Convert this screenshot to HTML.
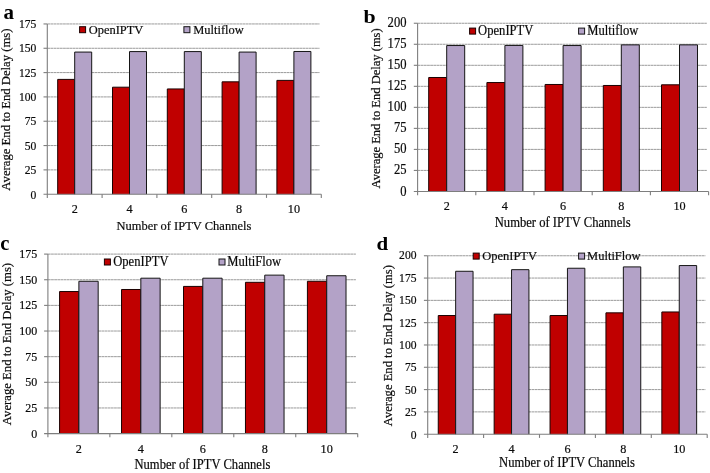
<!DOCTYPE html>
<html><head><meta charset="utf-8"><title>Average End to End Delay</title>
<style>
html,body{margin:0;padding:0;background:#fff;}
svg{display:block;font-family:"Liberation Serif",serif;fill:#0a0a0a;}
text{stroke:#0a0a0a;stroke-width:0.2px}
.p{font-size:21px;font-weight:bold;fill:#000;stroke:none}
.g{stroke:#9b9b9b;stroke-width:1;stroke-dasharray:2.8 0.35;fill:none}
.ax{stroke:#7e7e7e;stroke-width:1.1;fill:none}
.r{fill:#c00000;stroke:#1a0000;stroke-width:1}
.u{fill:#b3a2c7;stroke:#151515;stroke-width:1}
</style></head><body>
<svg width="710" height="473" viewBox="0 0 710 473">
<rect width="710" height="473" fill="#fff"/>

<g id="chart-a">
<line class="g" x1="47.30" y1="169.88" x2="319.50" y2="169.88"/>
<line class="g" x1="47.30" y1="145.56" x2="319.50" y2="145.56"/>
<line class="g" x1="47.30" y1="121.24" x2="319.50" y2="121.24"/>
<line class="g" x1="47.30" y1="96.91" x2="319.50" y2="96.91"/>
<line class="g" x1="47.30" y1="72.59" x2="319.50" y2="72.59"/>
<line class="g" x1="47.30" y1="48.27" x2="319.50" y2="48.27"/>
<line class="g" x1="47.30" y1="23.95" x2="319.50" y2="23.95"/>
<path class="r" d="M57.70 194.20V79.40H74.70V194.20"/>
<path class="u" d="M74.70 194.20V52.07H91.70V194.20"/>
<path class="r" d="M112.50 194.20V87.19H129.50V194.20"/>
<path class="u" d="M129.50 194.20V51.58H146.50V194.20"/>
<path class="r" d="M167.30 194.20V88.94H184.30V194.20"/>
<path class="u" d="M184.30 194.20V51.58H201.30V194.20"/>
<path class="r" d="M222.10 194.20V81.83H239.10V194.20"/>
<path class="u" d="M239.10 194.20V52.07H256.10V194.20"/>
<path class="r" d="M276.90 194.20V80.38H293.90V194.20"/>
<path class="u" d="M293.90 194.20V51.48H310.90V194.20"/>
<line class="ax" x1="47.30" y1="23.95" x2="47.30" y2="197.90"/>
<line class="ax" x1="43.50" y1="194.20" x2="321.30" y2="194.20"/>
<line class="ax" x1="43.50" y1="169.88" x2="47.30" y2="169.88"/>
<line class="ax" x1="43.50" y1="145.56" x2="47.30" y2="145.56"/>
<line class="ax" x1="43.50" y1="121.24" x2="47.30" y2="121.24"/>
<line class="ax" x1="43.50" y1="96.91" x2="47.30" y2="96.91"/>
<line class="ax" x1="43.50" y1="72.59" x2="47.30" y2="72.59"/>
<line class="ax" x1="43.50" y1="48.27" x2="47.30" y2="48.27"/>
<line class="ax" x1="43.50" y1="23.95" x2="47.30" y2="23.95"/>
<line class="ax" x1="102.10" y1="194.20" x2="102.10" y2="197.90"/>
<line class="ax" x1="156.90" y1="194.20" x2="156.90" y2="197.90"/>
<line class="ax" x1="211.70" y1="194.20" x2="211.70" y2="197.90"/>
<line class="ax" x1="266.50" y1="194.20" x2="266.50" y2="197.90"/>
<line class="ax" x1="321.30" y1="194.20" x2="321.30" y2="197.90"/>
<text text-anchor="end" transform="translate(36.40 198.70) scale(0.9091 1)" font-size="12.76">0</text>
<text text-anchor="end" transform="translate(36.40 173.83) scale(0.9091 1)" font-size="12.76">25</text>
<text text-anchor="end" transform="translate(36.40 149.51) scale(0.9091 1)" font-size="12.76">50</text>
<text text-anchor="end" transform="translate(36.40 125.19) scale(0.9091 1)" font-size="12.76">75</text>
<text text-anchor="end" transform="translate(36.40 100.86) scale(0.9091 1)" font-size="12.76">100</text>
<text text-anchor="end" transform="translate(36.40 76.54) scale(0.9091 1)" font-size="12.76">125</text>
<text text-anchor="end" transform="translate(36.40 52.22) scale(0.9091 1)" font-size="12.76">150</text>
<text text-anchor="end" transform="translate(36.40 27.90) scale(0.9091 1)" font-size="12.76">175</text>
<text text-anchor="middle" transform="translate(74.70 213.20) scale(0.9259 1)" font-size="13.18">2</text>
<text text-anchor="middle" transform="translate(129.50 213.20) scale(0.9259 1)" font-size="13.18">4</text>
<text text-anchor="middle" transform="translate(184.30 213.20) scale(0.9259 1)" font-size="13.18">6</text>
<text text-anchor="middle" transform="translate(239.10 213.20) scale(0.9259 1)" font-size="13.18">8</text>
<text text-anchor="middle" transform="translate(293.90 213.20) scale(0.9259 1)" font-size="13.18">10</text>
<text text-anchor="middle" transform="translate(183.90 229.60) scale(0.9259 1)" font-size="13.50">Number of IPTV Channels</text>
<text font-size="12.70" text-anchor="middle" transform="translate(9.80 109.57) scale(0.94 1) rotate(-90)">Average End to End Delay (ms)</text>
<rect class="r" x="79.60" y="26.70" width="6" height="6"/>
<text transform="translate(88.70 33.70) scale(0.9259 1)" font-size="13.45">OpenIPTV</text>
<rect class="u" x="183.90" y="26.70" width="6" height="6"/>
<text transform="translate(193.30 33.70) scale(0.9259 1)" font-size="13.45">Multiflow</text>
<text class="p" transform="translate(3.50 19.20) scale(1.000 1.000)">a</text>
</g>
<g id="chart-b">
<line class="g" x1="417.60" y1="170.42" x2="706.80" y2="170.42"/>
<line class="g" x1="417.60" y1="149.40" x2="706.80" y2="149.40"/>
<line class="g" x1="417.60" y1="128.38" x2="706.80" y2="128.38"/>
<line class="g" x1="417.60" y1="107.35" x2="706.80" y2="107.35"/>
<line class="g" x1="417.60" y1="86.32" x2="706.80" y2="86.32"/>
<line class="g" x1="417.60" y1="65.30" x2="706.80" y2="65.30"/>
<line class="g" x1="417.60" y1="44.28" x2="706.80" y2="44.28"/>
<line class="g" x1="417.60" y1="23.25" x2="706.80" y2="23.25"/>
<path class="r" d="M428.70 191.45V77.49H446.70V191.45"/>
<path class="u" d="M446.70 191.45V45.54H464.70V191.45"/>
<path class="r" d="M486.90 191.45V82.54H504.90V191.45"/>
<path class="u" d="M504.90 191.45V45.45H522.90V191.45"/>
<path class="r" d="M545.10 191.45V84.47H563.10V191.45"/>
<path class="u" d="M563.10 191.45V45.54H581.10V191.45"/>
<path class="r" d="M603.30 191.45V85.48H621.30V191.45"/>
<path class="u" d="M621.30 191.45V44.86H639.30V191.45"/>
<path class="r" d="M661.50 191.45V84.81H679.50V191.45"/>
<path class="u" d="M679.50 191.45V44.86H697.50V191.45"/>
<line class="ax" x1="417.60" y1="23.25" x2="417.60" y2="195.15"/>
<line class="ax" x1="413.80" y1="191.45" x2="708.60" y2="191.45"/>
<line class="ax" x1="413.80" y1="170.42" x2="417.60" y2="170.42"/>
<line class="ax" x1="413.80" y1="149.40" x2="417.60" y2="149.40"/>
<line class="ax" x1="413.80" y1="128.38" x2="417.60" y2="128.38"/>
<line class="ax" x1="413.80" y1="107.35" x2="417.60" y2="107.35"/>
<line class="ax" x1="413.80" y1="86.32" x2="417.60" y2="86.32"/>
<line class="ax" x1="413.80" y1="65.30" x2="417.60" y2="65.30"/>
<line class="ax" x1="413.80" y1="44.28" x2="417.60" y2="44.28"/>
<line class="ax" x1="413.80" y1="23.25" x2="417.60" y2="23.25"/>
<line class="ax" x1="475.80" y1="191.45" x2="475.80" y2="195.15"/>
<line class="ax" x1="534.00" y1="191.45" x2="534.00" y2="195.15"/>
<line class="ax" x1="592.20" y1="191.45" x2="592.20" y2="195.15"/>
<line class="ax" x1="650.40" y1="191.45" x2="650.40" y2="195.15"/>
<line class="ax" x1="708.60" y1="191.45" x2="708.60" y2="195.15"/>
<text text-anchor="end" transform="translate(406.50 195.95) scale(0.9091 1)" font-size="13.86">0</text>
<text text-anchor="end" transform="translate(406.50 174.37) scale(0.9091 1)" font-size="13.86">25</text>
<text text-anchor="end" transform="translate(406.50 153.35) scale(0.9091 1)" font-size="13.86">50</text>
<text text-anchor="end" transform="translate(406.50 132.32) scale(0.9091 1)" font-size="13.86">75</text>
<text text-anchor="end" transform="translate(406.50 111.30) scale(0.9091 1)" font-size="13.86">100</text>
<text text-anchor="end" transform="translate(406.50 90.27) scale(0.9091 1)" font-size="13.86">125</text>
<text text-anchor="end" transform="translate(406.50 69.25) scale(0.9091 1)" font-size="13.86">150</text>
<text text-anchor="end" transform="translate(406.50 48.23) scale(0.9091 1)" font-size="13.86">175</text>
<text text-anchor="end" transform="translate(406.50 27.20) scale(0.9091 1)" font-size="13.86">200</text>
<text text-anchor="middle" transform="translate(446.70 209.80) scale(0.9259 1)" font-size="13.18">2</text>
<text text-anchor="middle" transform="translate(504.90 209.80) scale(0.9259 1)" font-size="13.18">4</text>
<text text-anchor="middle" transform="translate(563.10 209.80) scale(0.9259 1)" font-size="13.18">6</text>
<text text-anchor="middle" transform="translate(621.30 209.80) scale(0.9259 1)" font-size="13.18">8</text>
<text text-anchor="middle" transform="translate(679.50 209.80) scale(0.9259 1)" font-size="13.18">10</text>
<text text-anchor="middle" transform="translate(562.70 226.50) scale(0.9259 1)" font-size="13.61">Number of IPTV Channels</text>
<text font-size="12.55" text-anchor="middle" transform="translate(379.80 108.40) scale(0.94 1) rotate(-90)">Average End to End Delay (ms)</text>
<rect class="r" x="469.60" y="28.10" width="6" height="6"/>
<text transform="translate(478.10 35.10) scale(0.9259 1)" font-size="13.61">OpenIPTV</text>
<rect class="u" x="578.60" y="28.10" width="6" height="6"/>
<text transform="translate(587.30 35.10) scale(0.9259 1)" font-size="13.61">Multiflow</text>
<text class="p" transform="translate(363.40 23.00) scale(1.040 0.940)">b</text>
</g>
<g id="chart-c">
<line class="g" x1="47.90" y1="407.96" x2="355.90" y2="407.96"/>
<line class="g" x1="47.90" y1="382.31" x2="355.90" y2="382.31"/>
<line class="g" x1="47.90" y1="356.67" x2="355.90" y2="356.67"/>
<line class="g" x1="47.90" y1="331.03" x2="355.90" y2="331.03"/>
<line class="g" x1="47.90" y1="305.39" x2="355.90" y2="305.39"/>
<line class="g" x1="47.90" y1="279.74" x2="355.90" y2="279.74"/>
<line class="g" x1="47.90" y1="254.10" x2="355.90" y2="254.10"/>
<path class="r" d="M59.58 433.60V291.54H78.88V433.60"/>
<path class="u" d="M78.88 433.60V281.28H98.18V433.60"/>
<path class="r" d="M121.54 433.60V289.49H140.84V433.60"/>
<path class="u" d="M140.84 433.60V278.20H160.14V433.60"/>
<path class="r" d="M183.50 433.60V286.41H202.80V433.60"/>
<path class="u" d="M202.80 433.60V278.20H222.10V433.60"/>
<path class="r" d="M245.46 433.60V282.31H264.76V433.60"/>
<path class="u" d="M264.76 433.60V275.13H284.06V433.60"/>
<path class="r" d="M307.42 433.60V281.28H326.72V433.60"/>
<path class="u" d="M326.72 433.60V275.74H346.02V433.60"/>
<line class="ax" x1="47.90" y1="254.10" x2="47.90" y2="437.30"/>
<line class="ax" x1="44.10" y1="433.60" x2="357.70" y2="433.60"/>
<line class="ax" x1="44.10" y1="407.96" x2="47.90" y2="407.96"/>
<line class="ax" x1="44.10" y1="382.31" x2="47.90" y2="382.31"/>
<line class="ax" x1="44.10" y1="356.67" x2="47.90" y2="356.67"/>
<line class="ax" x1="44.10" y1="331.03" x2="47.90" y2="331.03"/>
<line class="ax" x1="44.10" y1="305.39" x2="47.90" y2="305.39"/>
<line class="ax" x1="44.10" y1="279.74" x2="47.90" y2="279.74"/>
<line class="ax" x1="44.10" y1="254.10" x2="47.90" y2="254.10"/>
<line class="ax" x1="109.86" y1="433.60" x2="109.86" y2="437.30"/>
<line class="ax" x1="171.82" y1="433.60" x2="171.82" y2="437.30"/>
<line class="ax" x1="233.78" y1="433.60" x2="233.78" y2="437.30"/>
<line class="ax" x1="295.74" y1="433.60" x2="295.74" y2="437.30"/>
<line class="ax" x1="357.70" y1="433.60" x2="357.70" y2="437.30"/>
<text text-anchor="end" transform="translate(37.20 438.10) scale(0.9091 1)" font-size="13.20">0</text>
<text text-anchor="end" transform="translate(37.20 411.91) scale(0.9091 1)" font-size="13.20">25</text>
<text text-anchor="end" transform="translate(37.20 386.26) scale(0.9091 1)" font-size="13.20">50</text>
<text text-anchor="end" transform="translate(37.20 360.62) scale(0.9091 1)" font-size="13.20">75</text>
<text text-anchor="end" transform="translate(37.20 334.98) scale(0.9091 1)" font-size="13.20">100</text>
<text text-anchor="end" transform="translate(37.20 309.34) scale(0.9091 1)" font-size="13.20">125</text>
<text text-anchor="end" transform="translate(37.20 283.69) scale(0.9091 1)" font-size="13.20">150</text>
<text text-anchor="end" transform="translate(37.20 257.60) scale(0.9091 1)" font-size="13.20">175</text>
<text text-anchor="middle" transform="translate(78.88 452.60) scale(0.9259 1)" font-size="13.18">2</text>
<text text-anchor="middle" transform="translate(140.84 452.60) scale(0.9259 1)" font-size="13.18">4</text>
<text text-anchor="middle" transform="translate(202.80 452.60) scale(0.9259 1)" font-size="13.18">6</text>
<text text-anchor="middle" transform="translate(264.76 452.60) scale(0.9259 1)" font-size="13.18">8</text>
<text text-anchor="middle" transform="translate(326.72 452.60) scale(0.9259 1)" font-size="13.18">10</text>
<text text-anchor="middle" transform="translate(202.40 469.00) scale(0.9259 1)" font-size="13.61">Number of IPTV Channels</text>
<text font-size="12.70" text-anchor="middle" transform="translate(11.00 344.05) scale(0.94 1) rotate(-90)">Average End to End Delay (ms)</text>
<rect class="r" x="104.40" y="259.00" width="6" height="6"/>
<text transform="translate(113.20 266.00) scale(0.9259 1)" font-size="13.61">OpenIPTV</text>
<rect class="u" x="219.00" y="259.00" width="6" height="6"/>
<text transform="translate(227.30 266.00) scale(0.9259 1)" font-size="13.61">MultiFlow</text>
<text class="p" transform="translate(0.20 250.30) scale(0.980 0.980)">c</text>
</g>
<g id="chart-d">
<line class="g" x1="427.70" y1="411.89" x2="705.40" y2="411.89"/>
<line class="g" x1="427.70" y1="389.59" x2="705.40" y2="389.59"/>
<line class="g" x1="427.70" y1="367.28" x2="705.40" y2="367.28"/>
<line class="g" x1="427.70" y1="344.98" x2="705.40" y2="344.98"/>
<line class="g" x1="427.70" y1="322.67" x2="705.40" y2="322.67"/>
<line class="g" x1="427.70" y1="300.36" x2="705.40" y2="300.36"/>
<line class="g" x1="427.70" y1="278.06" x2="705.40" y2="278.06"/>
<line class="g" x1="427.70" y1="255.75" x2="705.40" y2="255.75"/>
<path class="r" d="M438.25 434.20V315.53H455.65V434.20"/>
<path class="u" d="M455.65 434.20V271.28H473.05V434.20"/>
<path class="r" d="M494.15 434.20V314.19H511.55V434.20"/>
<path class="u" d="M511.55 434.20V269.67H528.95V434.20"/>
<path class="r" d="M550.05 434.20V315.53H567.45V434.20"/>
<path class="u" d="M567.45 434.20V268.24H584.85V434.20"/>
<path class="r" d="M605.95 434.20V312.85H623.35V434.20"/>
<path class="u" d="M623.35 434.20V266.90H640.75V434.20"/>
<path class="r" d="M661.85 434.20V311.96H679.25V434.20"/>
<path class="u" d="M679.25 434.20V265.56H696.65V434.20"/>
<line class="ax" x1="427.70" y1="255.75" x2="427.70" y2="437.90"/>
<line class="ax" x1="423.90" y1="434.20" x2="707.20" y2="434.20"/>
<line class="ax" x1="423.90" y1="411.89" x2="427.70" y2="411.89"/>
<line class="ax" x1="423.90" y1="389.59" x2="427.70" y2="389.59"/>
<line class="ax" x1="423.90" y1="367.28" x2="427.70" y2="367.28"/>
<line class="ax" x1="423.90" y1="344.98" x2="427.70" y2="344.98"/>
<line class="ax" x1="423.90" y1="322.67" x2="427.70" y2="322.67"/>
<line class="ax" x1="423.90" y1="300.36" x2="427.70" y2="300.36"/>
<line class="ax" x1="423.90" y1="278.06" x2="427.70" y2="278.06"/>
<line class="ax" x1="423.90" y1="255.75" x2="427.70" y2="255.75"/>
<line class="ax" x1="483.60" y1="434.20" x2="483.60" y2="437.90"/>
<line class="ax" x1="539.50" y1="434.20" x2="539.50" y2="437.90"/>
<line class="ax" x1="595.40" y1="434.20" x2="595.40" y2="437.90"/>
<line class="ax" x1="651.30" y1="434.20" x2="651.30" y2="437.90"/>
<line class="ax" x1="707.20" y1="434.20" x2="707.20" y2="437.90"/>
<text text-anchor="end" transform="translate(416.50 438.70) scale(0.9091 1)" font-size="12.76">0</text>
<text text-anchor="end" transform="translate(416.50 415.84) scale(0.9091 1)" font-size="12.76">25</text>
<text text-anchor="end" transform="translate(416.50 393.54) scale(0.9091 1)" font-size="12.76">50</text>
<text text-anchor="end" transform="translate(416.50 371.23) scale(0.9091 1)" font-size="12.76">75</text>
<text text-anchor="end" transform="translate(416.50 348.93) scale(0.9091 1)" font-size="12.76">100</text>
<text text-anchor="end" transform="translate(416.50 326.62) scale(0.9091 1)" font-size="12.76">125</text>
<text text-anchor="end" transform="translate(416.50 304.31) scale(0.9091 1)" font-size="12.76">150</text>
<text text-anchor="end" transform="translate(416.50 282.01) scale(0.9091 1)" font-size="12.76">175</text>
<text text-anchor="end" transform="translate(416.50 259.25) scale(0.9091 1)" font-size="12.76">200</text>
<text text-anchor="middle" transform="translate(455.65 452.80) scale(0.9259 1)" font-size="13.18">2</text>
<text text-anchor="middle" transform="translate(511.55 452.80) scale(0.9259 1)" font-size="13.18">4</text>
<text text-anchor="middle" transform="translate(567.45 452.80) scale(0.9259 1)" font-size="13.18">6</text>
<text text-anchor="middle" transform="translate(623.35 452.80) scale(0.9259 1)" font-size="13.18">8</text>
<text text-anchor="middle" transform="translate(679.25 452.80) scale(0.9259 1)" font-size="13.18">10</text>
<text text-anchor="middle" transform="translate(567.05 467.20) scale(0.9259 1)" font-size="13.61">Number of IPTV Channels</text>
<text font-size="12.62" text-anchor="middle" transform="translate(391.50 345.68) scale(0.94 1) rotate(-90)">Average End to End Delay (ms)</text>
<rect class="r" x="473.20" y="253.10" width="6" height="6"/>
<text transform="translate(482.20 260.10) scale(0.9259 1)" font-size="13.50">OpenIPTV</text>
<rect class="u" x="578.60" y="253.10" width="6" height="6"/>
<text transform="translate(587.10 260.10) scale(0.9259 1)" font-size="13.50">MultiFlow</text>
<text class="p" transform="translate(376.50 250.45) scale(1.000 0.935)">d</text>
</g>
</svg></body></html>
